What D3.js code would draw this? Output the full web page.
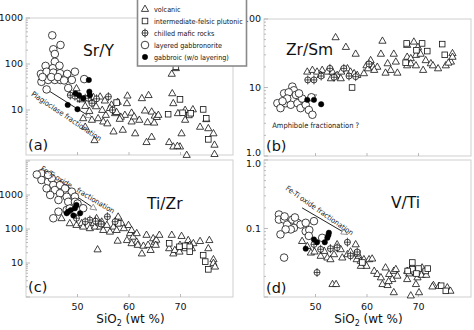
<!DOCTYPE html>
<html>
<head>
<meta charset="utf-8">
<script src="https://cdn.jsdelivr.net/npm/d3@7"></script>
<style>
  body { margin: 0; background: #fff; }
  svg { display: block; font-family: "DejaVu Sans", sans-serif; }
  .cond { font-family: "DejaVu Sans Condensed", "DejaVu Sans", sans-serif; font-stretch: condensed; }
</style>
</head>
<body>
<div id="container"></div>
<script>
// [SiO2 wt%, ratio] for each rock group, one set per panel

// (a) Sr/Y
let volcanicA = [[49.8,29.5],[51.5,12.2],[52.3,9.5],[51.1,6.6],[51.5,4.3],[52.8,6.1],[53.3,2.2],[54.0,6.6],[54.4,19.5],[55.0,5.6],[55.8,5.1],[55.5,7.8],[57.3,8.5],[57.0,3.4],[57.8,15],[58.8,3.7],[59.2,7.8],[59.7,20.5],[59.6,14],[58.4,7.1],[60.5,8.7],[60.5,5.6],[61.2,3.1],[62.0,6.1],[62.5,18],[63.1,9.7],[63.8,21],[63.6,5.4],[63.4,2.0],[64.4,2.6],[64.4,9.2],[65.0,7.5],[64.9,5.3],[65.4,7.0],[65.7,7.8],[67.8,2.0],[68.6,1.6],[68.3,61],[69.1,81],[68.4,23],[68.6,14],[69.9,1.6],[70.2,3.1],[69.5,8.5],[70.9,10],[71.2,1.05],[72.4,10.3],[70.9,6.1],[73.8,4.3],[75.0,6.3],[75.4,4.0],[76.4,3.1],[76.6,1.75],[76.6,1.1],[69.4,1.65],[50.6,17],[53.1,19],[55.3,16],[56.6,13],[53.6,12],[54.8,10],[56.3,11],[57.6,9],[58.2,6.4],[61.0,7.2]];
let plutonicA = [[69.1,87],[69.9,17],[67.6,8.1],[70.4,8.7],[71.7,7.8],[72.0,8.5],[74.4,10.3],[75.0,6.6],[75.4,2.3],[57.6,14.5]];
let chilledA = [[48.6,21],[50.4,18],[51.5,18],[52.1,18],[53.7,17.5],[56.0,19.5],[56.8,10],[49.5,20],[52.8,14]];
let layeredA = [[45.1,420],[45.3,209],[46.7,259],[45.6,165],[45.6,112],[43.8,91],[45.2,81],[46.5,92],[42.9,61],[44.0,68],[45.3,65],[46.6,63],[43.0,41],[44.3,45],[45.6,45],[46.7,45],[48.0,61],[49.5,68],[48.9,45],[51.3,47],[48.2,30],[44.0,28],[43.2,52],[44.9,52],[46.2,52],[47.4,44]];
let gabbroicA = [[52.2,45],[49.6,23],[50.3,21],[52.3,25],[52.4,21],[48.1,12.9],[50.0,10.4],[51.1,18]];

// (b) Zr/Sm
let volcanicB = [[53.9,54],[55.9,39],[57.8,31],[63.0,48],[60.7,25],[62.7,31],[65.2,31],[61.2,20],[62.0,20],[64.0,22.5],[64.6,18],[63.6,16.4],[65.9,16.4],[65.6,23.8],[48.4,17],[49.4,18],[50.3,17],[51.3,18],[52.3,17],[53.3,17],[54.2,15.2],[55.0,17],[56.2,19],[56.8,17],[57.5,16.1],[58.1,15.2],[59.4,16.1],[59.9,21],[60.2,19],[61.4,18],[54.9,13.6],[53.0,13.6],[53.8,14.5],[51.0,15.2],[67.8,41.7],[69.1,46.6],[69.9,39],[67.8,28],[68.5,26.7],[69.5,29.8],[67.8,21],[68.5,22.5],[69.5,21],[70.9,18],[71.4,25],[72.4,22.5],[72.8,21],[73.8,19],[70.4,31],[75.3,21],[76.3,23.8],[76.6,31.6],[76.6,28],[75.8,23]];
let plutonicB = [[57.1,10],[67.7,44],[70.7,44],[71.7,34],[74.6,43],[75.1,30],[69.6,35],[67.5,23]];
let chilledB = [[48.5,12.9],[49.7,12.9],[51.1,14.7],[52.8,19],[53.6,14.1],[55.5,19],[56.5,14.7],[60.4,22],[57.8,14.4]];
let layeredB = [[45.5,10.3],[45.8,9.1],[43.9,8.2],[44.8,8.5],[46.2,7.8],[42.6,5.9],[43.2,5.0],[44.2,5.9],[45.2,5.6],[46.5,5.9],[47.1,5.0],[48.1,5.6],[48.7,4.7],[49.4,4.0],[47.4,6.9],[49.2,7.2],[44.5,6.9],[43.6,6.3],[46.8,8.2]];
let gabbroicB = [[51.1,5.7],[49.7,6.6],[48.4,6.6]];

// (c) Ti/Zr
let volcanicC = [[46.9,207],[48.5,147],[49.8,131],[50.8,147],[51.1,117],[52.4,105],[53.2,150],[53.7,207],[53.4,117],[54.4,117],[55.0,93],[54.7,164],[55.7,131],[56.3,83],[57.0,117],[57.6,93],[57.6,184],[57.9,230],[58.6,147],[59.0,105],[59.9,130],[53.9,25],[57.8,45],[59.6,47],[60.2,75],[60.5,93],[60.8,59],[61.5,42],[60.5,38],[61.7,34],[61.5,75],[62.8,32],[62.5,19],[63.4,67],[63.7,34],[64.2,24],[64.7,53],[65.0,42],[65.3,48],[65.9,67],[65.2,34],[68.3,67],[70.2,62],[67.8,27],[68.6,19],[68.9,24],[69.9,34],[69.8,21.5],[70.9,27],[71.5,47],[71.8,34],[72.2,27],[72.5,38],[73.8,44],[75.6,47],[75.4,27],[76.4,12.8],[76.4,10],[76.7,7.8]];
let plutonicC = [[67.8,38],[69.8,30],[70.9,32],[71.8,30],[71.8,21.5],[74.4,17],[74.8,11],[75.4,6.5],[57.9,147]];
let chilledC = [[52.4,184],[53.5,170],[55.8,230],[57.3,164],[49.8,207],[51.5,164],[54.6,140]];
let layeredC = [[43.0,4350],[43.0,2760],[44.3,2450],[45.0,3100],[45.3,1960],[46.6,1960],[44.0,1570],[45.6,1400],[47.6,1570],[48.9,1250],[44.7,1000],[46.6,1120],[47.9,890],[49.5,890],[48.2,630],[49.5,630],[46.3,713],[50.0,560],[51.1,408],[46.3,323],[45.3,207],[47.9,362],[48.5,400],[44.3,3880],[42.1,4000]];
let gabbroicC = [[48.2,323],[48.7,360],[49.5,408],[49.8,508],[50.5,290],[47.9,290],[49.2,250]];

// (d) V/Ti
let volcanicD = [[47.4,0.0655],[48.4,0.0553],[49.1,0.0444],[49.8,0.046],[51.0,0.0398],[51.7,0.0469],[52.3,0.0376],[52.9,0.0355],[53.6,0.042],[54.2,0.0586],[54.9,0.0497],[55.2,0.0376],[56.2,0.042],[56.8,0.046],[57.8,0.0586],[58.0,0.0355],[58.4,0.0398],[58.8,0.0336],[59.4,0.0355],[59.9,0.0284],[60.4,0.0355],[61.0,0.0363],[58.8,0.0284],[61.4,0.024],[62.0,0.0216],[62.7,0.0193],[63.6,0.0269],[64.3,0.0216],[64.9,0.0182],[65.2,0.024],[65.6,0.0255],[65.9,0.0204],[65.2,0.0117],[63.0,0.0154],[64.0,0.0149],[64.2,0.017],[53.3,0.0154],[54.0,0.0154],[67.8,0.024],[68.2,0.022],[68.8,0.0284],[69.5,0.0228],[69.8,0.0193],[67.8,0.0182],[69.5,0.0154],[68.5,0.0105],[70.1,0.0117],[70.6,0.021],[71.5,0.021],[72.9,0.0149],[72.7,0.0142],[75.6,0.0138],[76.2,0.0123],[74.0,0.0145],[70.7,0.0269]];
let plutonicD = [[58.1,0.0435],[59.1,0.0319],[68.8,0.0319],[68.8,0.0255],[70.0,0.026],[71.4,0.024],[71.8,0.026],[69.6,0.022],[74.4,0.0146],[75.3,0.0123],[67.9,0.024]];
let chilledD = [[50.3,0.0228],[49.7,0.0586],[51.0,0.0497],[52.9,0.0508],[54.2,0.0525],[56.2,0.063],[56.8,0.0398],[58.1,0.0454]];
let layeredD = [[42.9,0.160],[42.9,0.135],[43.9,0.135],[44.5,0.114],[45.5,0.135],[46.5,0.121],[45.8,0.102],[47.1,0.114],[48.1,0.121],[45.2,0.097],[44.2,0.097],[43.2,0.082],[43.9,0.0376],[49.7,0.128],[48.1,0.091],[48.8,0.095],[48.7,0.078],[51.3,0.073],[44.0,0.15],[46.0,0.145]];
let gabbroicD = [[48.1,0.0508],[52.6,0.0866],[52.3,0.073],[49.7,0.069],[50.3,0.063],[51.8,0.063],[52.5,0.08]];

// trend arrows [start, end]
let arrowA = [[44.0,28],[52.8,6.7]];
let arrowB = [[47.4,6.2],[50.2,7.8]];
let arrowC = [[43.7,3870],[53.7,362]];
let arrowD = [[47.4,0.2],[56.2,0.082]];

let xTicks = [50, 60, 70];
let legendLabels = ["volcanic", "intermediate-felsic plutonic", "chilled mafic rocks", "layered gabbronorite", "gabbroic (w/o layering)"];
let legendKinds = ["volcanic", "plutonic", "chilled", "layered", "gabbroic"];

const w = 474;
const h = 330;
let svg = d3.select("#container")
  .append("svg")
    .attr("width", w)
    .attr("height", h);

// panel layout; sets follow legendKinds order
let panels = [
  { left: 26, right: 233, top: 18, bottom: 155, yDom: [1, 1000], yRange: [156, 18],
    yTicks: [[1000,"1000",0],[100,"100",0],[10,"10",0]], title: "Sr/Y", tx: 83, ty: 56, letter: "(a)", ly: 150,
    sets: [volcanicA, plutonicA, chilledA, layeredA, gabbroicA], arrow: arrowA,
    note: { text: "Plagioclase fractionation", at: [40.9, 21], angle: 34 } },
  { left: 264, right: 471, top: 19, bottom: 156, yDom: [1, 100], yRange: [156, 19],
    yTicks: [[100,"100",0],[10,"10",0],[1,"1.0",-3.2]], title: "Zr/Sm", tx: 286, ty: 55, letter: "(b)", ly: 151,
    sets: [volcanicB, plutonicB, chilledB, layeredB, gabbroicB], arrow: arrowB,
    note: { text: "Amphibole fractionation ?", at: [41.6, 2.56], angle: 0 } },
  { left: 26, right: 233, top: 160, bottom: 297, yDom: [1, 10000], yRange: [297, 161],
    yTicks: [[1000,"1000",0],[100,"100",0],[10,"10",0]], title: "Ti/Zr", tx: 147, ty: 209, letter: "(c)", ly: 292,
    sets: [volcanicC, plutonicC, chilledC, layeredC, gabbroicC], arrow: arrowC,
    note: { text: "Fe-Ti oxide   fractionation", at: [42.7, 5400], angle: 31 }, xLabels: true },
  { left: 264, right: 471, top: 160, bottom: 297, yDom: [0.01, 1], yRange: [297, 160],
    yTicks: [[1,"1.0",3.2],[0.1,"0.1",0]], title: "V/Ti", tx: 391, ty: 208, letter: "(d)", ly: 293,
    sets: [volcanicD, plutonicD, chilledD, layeredD, gabbroicD], arrow: arrowD,
    note: { text: "Fe-Ti oxide fractionation", at: [44.1, 0.37], angle: 35 }, xLabels: true }
];

// symbol painters
function drawSymbol(g, kind, x, y) {
  if (kind == "volcanic") {
    g.append("path")
      .attr("d", `M${x},${y-3.9}L${x+3.6},${y+2.4}L${x-3.6},${y+2.4}Z`)
      .attr("fill", "#fff").attr("stroke", "#111").attr("stroke-width", 0.8);
  } else if (kind == "plutonic") {
    g.append("rect")
      .attr("x", x-2.8).attr("y", y-2.8).attr("width", 5.6).attr("height", 5.6)
      .attr("fill", "#fff").attr("stroke", "#111").attr("stroke-width", 0.8);
  } else if (kind == "layered") {
    g.append("circle").attr("cx", x).attr("cy", y).attr("r", 3.8)
      .attr("fill", "#fff").attr("stroke", "#111").attr("stroke-width", 0.8);
  } else if (kind == "chilled") {
    g.append("circle").attr("cx", x).attr("cy", y).attr("r", 3)
      .attr("fill", "#fff").attr("stroke", "#111").attr("stroke-width", 0.8);
    g.append("path")
      .attr("d", `M${x-3},${y}H${x+3}M${x},${y-4.5}V${y+4.5}`)
      .attr("stroke", "#111").attr("stroke-width", 0.7);
  } else {
    g.append("circle").attr("cx", x).attr("cy", y).attr("r", 2.7)
      .attr("fill", "#000").attr("stroke", "#000").attr("stroke-width", 0.5);
  }
}

// draw order: volcanic, plutonic, layered, chilled, gabbroic on top
let drawOrder = [0, 1, 3, 2, 4];

panels.forEach(function(p) {
  let xScale = d3.scaleLinear().domain([40, 80]).range([p.left, p.left + 206]);
  let yScale = d3.scaleLog().domain(p.yDom).range(p.yRange);
  let g = svg.append("g");

  // frame
  g.append("rect")
    .attr("x", p.left).attr("y", p.top)
    .attr("width", p.right - p.left).attr("height", p.bottom - p.top)
    .attr("fill", "none").attr("stroke", "#cfcfcf").attr("stroke-width", 1);

  // log ticks on the left edge, pointing inward
  yScale.ticks().forEach(function(t) {
    let major = Math.abs(Math.log10(t) - Math.round(Math.log10(t))) < 1e-6;
    let yy = yScale(t);
    if (yy < p.top - 0.5 || yy > p.bottom + 0.5) return;
    g.append("line")
      .attr("x1", p.left).attr("x2", p.left + (major ? 4 : 2))
      .attr("y1", yy).attr("y2", yy)
      .attr("stroke", "#aaa").attr("stroke-width", 0.8);
  });
  p.yTicks.forEach(function(t) {
    g.append("text")
      .attr("x", p.left - 3).attr("y", yScale(t[0]) + 3.3 + t[2])
      .attr("text-anchor", "end").attr("font-size", 9.5).attr("fill", "#111")
      .text(t[1]);
  });

  // SiO2 ticks along the bottom
  xTicks.forEach(function(t) {
    g.append("line")
      .attr("x1", xScale(t)).attr("x2", xScale(t))
      .attr("y1", p.bottom).attr("y2", p.bottom - 3)
      .attr("stroke", "#aaa").attr("stroke-width", 0.8);
    if (p.xLabels) {
      g.append("text")
        .attr("x", xScale(t)).attr("y", p.bottom + 13)
        .attr("text-anchor", "middle").attr("font-size", 9.5).attr("fill", "#111")
        .text(t);
    }
  });
  if (p.xLabels) {
    let lab = g.append("text")
      .attr("x", (p.left + p.right) / 2 + 1).attr("y", 323)
      .attr("text-anchor", "middle").attr("font-size", 12).attr("fill", "#111");
    lab.append("tspan").text("SiO");
    lab.append("tspan").attr("font-size", 8).attr("dy", 3).text("2");
    lab.append("tspan").attr("dy", -3).text(" (wt %)");
  }

  // trend arrow
  let a0 = [xScale(p.arrow[0][0]), yScale(p.arrow[0][1])];
  let a1 = [xScale(p.arrow[1][0]), yScale(p.arrow[1][1])];
  g.append("line")
    .attr("x1", a0[0]).attr("y1", a0[1]).attr("x2", a1[0]).attr("y2", a1[1])
    .attr("stroke", "#222").attr("stroke-width", 1);
  let ang = Math.atan2(a1[1] - a0[1], a1[0] - a0[0]) * 180 / Math.PI;
  g.append("path")
    .attr("d", "M0,0L-6,-3L-6,3Z")
    .attr("transform", `translate(${a1[0]},${a1[1]}) rotate(${ang})`)
    .attr("fill", "#fff").attr("stroke", "#888").attr("stroke-width", 0.8);

  // points
  drawOrder.forEach(function(i) {
    let layer = g.append("g");
    p.sets[i].forEach(function(d) {
      drawSymbol(layer, legendKinds[i], xScale(d[0]), yScale(d[1]));
    });
  });

  // trend label
  let nx = xScale(p.note.at[0]), ny = yScale(p.note.at[1]);
  g.append("text")
    .attr("class", "cond")
    .attr("transform", `translate(${nx},${ny}) rotate(${p.note.angle})`)
    .attr("font-size", 7.5).attr("fill", "#222")
    .style("white-space", "pre")
    .text(p.note.text);

  // ratio title and panel letter
  g.append("text")
    .attr("x", p.tx).attr("y", p.ty)
    .attr("font-size", 15.5).attr("fill", "#111")
    .text(p.title);
  g.append("text")
    .attr("x", p.left + 2).attr("y", p.ly)
    .attr("font-size", 14.5).attr("fill", "#111")
    .text(p.letter);
});

// legend
let legend = svg.append("g");
legend.append("rect")
  .attr("x", 137.5).attr("y", -1).attr("width", 109).attr("height", 67)
  .attr("fill", "#fff").attr("stroke", "#8a8a8a").attr("stroke-width", 1.6);
legendLabels.forEach(function(label, i) {
  let yy = 9 + i * 12;
  drawSymbol(legend, legendKinds[i], 145, yy);
  legend.append("text")
    .attr("class", "cond")
    .attr("x", 154).attr("y", yy + 2.6)
    .attr("font-size", 7.2).attr("fill", "#111")
    .text(label);
});
</script>
</body>
</html>
